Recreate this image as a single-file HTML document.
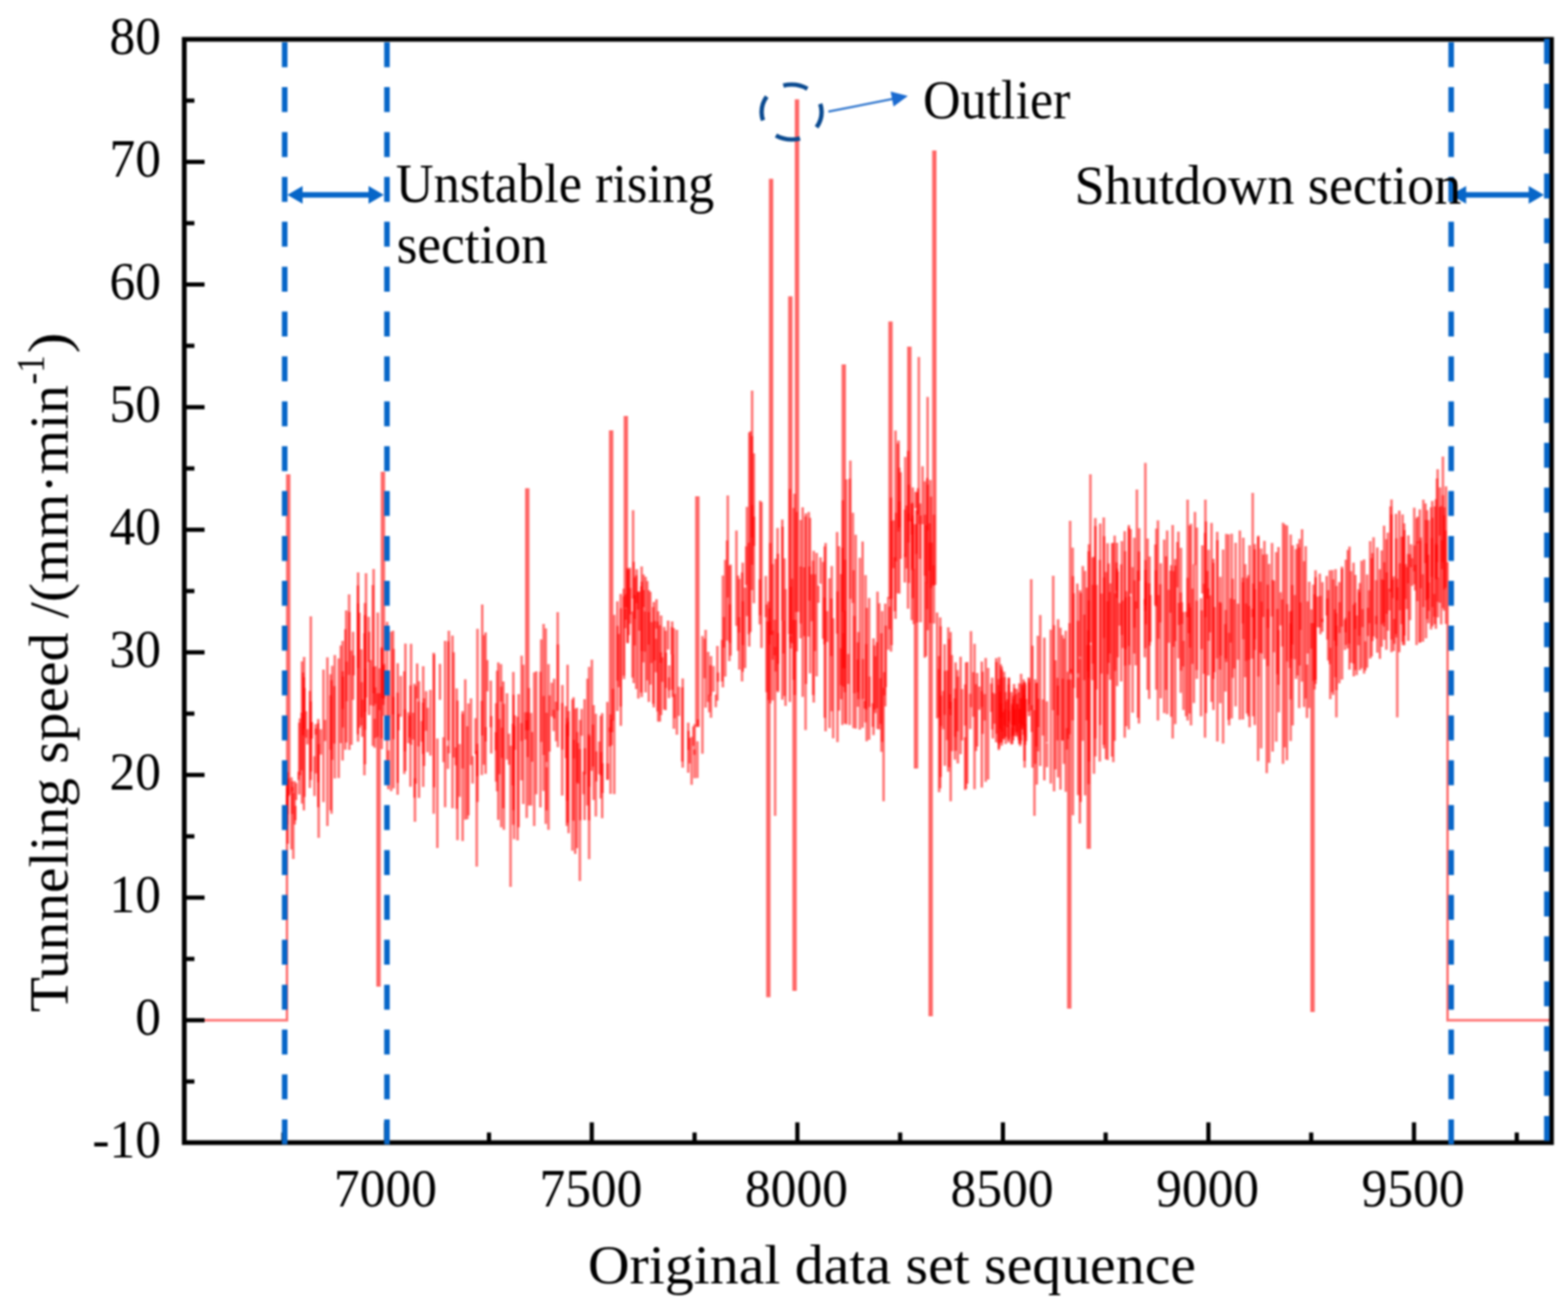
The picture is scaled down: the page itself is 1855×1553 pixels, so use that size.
<!DOCTYPE html>
<html><head><meta charset="utf-8"><title>Tunneling speed vs original data set sequence</title>
<style>
html,body{margin:0;padding:0;background:#fff;}
svg{display:block;}
#w{filter:blur(0.8px);width:1855px;height:1553px;overflow:hidden;}
text{font-family:"Liberation Serif","Times New Roman",serif;fill:#000;}
</style></head><body><div id="w">
<svg width="1855" height="1553" viewBox="0 0 1855 1553">
<rect x="0" y="0" width="1855" height="1553" fill="#fff"/>

<g fill="none" stroke="#ff0000" stroke-width="3.0" stroke-opacity="0.55">
<path d="M242 1206.7H339.5V940.0M1712.5 665.0V1206.7H1833"/>
<path d="M339.7 923.3V975.5M345.8 930.8V962.8M356.9 842.9V911.0M366.6 817.3V932.0M376.4 855.4V925.3M391.1 822.5V886.8M405.4 793.9V838.4M417.7 747.3V827.8M428.6 827.4V871.4M438.4 780.8V834.2M446.9 724.5V871.4M454.4 785.3V846.7M470.4 819.3V940.0M484.7 846.3V872.2M495.2 829.7V882.8M509.2 816.1V893.7M530.3 758.4V875.7M547.3 841.0V909.1M564.0 888.0V1025.0M576.5 780.7V817.8M592.7 785.6V829.8M606.8 856.0V929.0M617.1 775.4V922.9M628.2 843.3V952.7M645.7 743.3V974.4M657.9 829.9V876.7M671.5 786.2V973.3M682.9 865.7V925.2M695.0 802.7V952.7M705.5 888.7V924.3M721.6 860.4V883.0M730.5 740.2V805.2M740.3 702.7V732.9M749.0 708.0V603.6M756.3 699.5V745.9M765.8 687.2V804.7M776.2 755.5V795.3M785.8 741.6V839.3M795.7 774.0V824.4M814.5 864.6V887.1M825.6 851.1V858.7M841.1 775.9V849.1M858.0 662.2V800.2M874.3 730.1V748.2M885.9 642.0V750.2M898.9 685.3V738.6M910.2 719.6V762.3M917.6 660.9V794.3M929.3 696.8V835.0M939.0 600.7V804.1M949.6 599.9V824.2M962.0 663.2V822.1M975.7 646.3V848.9M990.8 699.5V877.8M999.4 790.4V431.0M1009.8 674.5V861.3M1020.9 779.6V826.7M1033.4 754.9V869.5M1043.7 722.8V877.6M1054.1 588.4V770.7M1063.0 520.9V628.8M1074.3 533.2V719.9M1079.6 609.8V672.3M1085.9 577.4V608.4M1096.0 621.3V689.8M1102.2 641.7V1202.0M1112.3 730.2V932.4M1122.8 755.8V907.4M1132.8 792.4V864.9M1147.9 820.4V862.3M1161.7 817.5V836.3M1176.8 820.6V856.1M1184.6 832.0V849.1M1189.8 818.4V880.1M1196.6 818.6V880.5M1200.7 839.0V858.6M1206.9 838.5V882.6M1211.9 822.0V849.5M1217.6 802.6V833.3M1227.9 752.1V888.8M1246.0 840.0V681.0M1257.3 802.7V875.5M1266.2 803.8V1193.0M1277.5 779.2V974.0M1287.3 745.5V793.9M1294.2 658.5V915.2M1306.1 683.1V754.6M1315.6 642.6V895.0M1324.7 713.2V740.0M1335.4 624.1V862.7M1345.0 720.0V579.0M1355.7 688.4V738.4M1369.9 615.6V852.3M1384.6 674.9V724.8M1394.6 712.9V739.2M1405.0 730.0V591.0M1415.8 710.4V792.5M1426.7 616.8V843.6M1436.5 718.1V795.0M1450.2 721.5V778.9M1461.8 641.9V835.4M1475.2 683.5V843.9M1484.5 649.7V768.8M1495.9 639.8V779.4M1509.9 653.1V877.3M1522.5 621.6V899.2M1531.9 703.7V779.7M1544.7 646.1V826.3M1555.2 703.1V815.4M1569.5 681.2V728.0M1580.0 673.2V801.0M1591.2 733.2V768.8M1601.6 715.2V800.1M1611.9 720.6V741.8M1623.7 654.3V758.2M1637.0 686.0V736.4M1646.2 608.6V771.6M1653.0 694.7V848.5M1662.8 667.3V708.4M1673.2 645.2V690.9M1683.4 679.3V759.1M1690.2 689.0V722.4M1699.0 643.3V685.2M1705.9 639.1V673.2"/>
<path d="M339.8 940.0V561.0M347.0 937.8V1016.0M357.3 782.2V950.4M367.6 829.4V922.4M376.5 850.5V954.7M392.2 804.4V962.5M405.6 800.3V860.4M418.4 775.2V798.8M431.1 749.1V917.0M441.1 692.1V882.2M449.0 820.0V1167.0M458.0 735.4V909.7M470.5 784.6V926.1M485.6 810.8V930.6M495.7 805.8V943.7M513.1 772.0V962.5M531.0 891.0V746.0M547.3 844.2V994.7M564.6 879.7V917.9M580.6 805.1V860.2M593.0 812.2V978.5M607.3 794.7V975.4M619.1 786.2V950.9M629.5 865.8V901.0M646.6 907.4V958.5M659.8 840.4V724.0M671.9 853.6V870.7M683.6 878.8V927.0M696.8 868.4V970.3M709.1 877.1V915.7M721.8 866.0V509.0M731.9 749.8V812.8M741.6 718.4V492.0M749.7 664.5V808.1M758.6 693.5V819.2M767.4 724.1V762.4M776.7 708.8V743.4M787.4 746.1V840.0M797.2 743.1V862.1M815.9 872.9V903.1M826.2 860.0V587.0M844.1 787.8V818.3M860.1 639.2V757.7M874.7 684.8V792.1M886.4 511.5V764.7M899.3 592.2V727.8M911.0 751.0V211.6M919.9 624.6V816.9M933.8 750.0V350.4M940.1 584.1V821.9M951.3 670.9V752.6M962.7 651.4V830.9M976.7 642.2V864.9M992.5 646.1V840.4M999.6 722.6V818.8M1010.8 728.5V819.9M1023.2 829.1V837.9M1034.4 763.6V839.2M1045.3 813.5V947.8M1054.7 708.3V380.2M1063.8 592.9V624.1M1074.6 616.5V410.0M1079.9 576.4V707.4M1087.0 620.0V422.3M1096.8 565.5V720.4M1104.1 691.8V178.0M1112.8 740.8V919.1M1123.6 820.9V838.4M1133.1 800.2V903.0M1148.7 746.5V836.6M1162.4 794.5V867.9M1178.5 778.4V877.9M1185.0 801.4V882.0M1190.0 829.4V871.4M1197.4 860.4V871.0M1201.8 821.1V865.8M1207.2 826.0V879.9M1212.0 806.6V900.0M1220.0 840.0V685.0M1228.3 826.5V860.1M1247.0 739.5V935.9M1258.7 755.3V903.5M1266.8 791.2V797.2M1277.8 698.3V776.8M1287.9 652.0V927.5M1295.8 612.7V873.5M1306.2 634.3V885.3M1317.1 642.0V901.6M1326.4 667.5V806.0M1335.5 621.0V764.2M1346.3 674.9V849.1M1357.7 636.9V816.1M1370.4 703.8V755.5M1385.6 668.6V847.8M1396.9 700.7V819.6M1406.6 713.6V749.0M1415.9 624.1V803.1M1428.4 675.3V708.2M1440.0 629.1V778.8M1450.7 631.6V783.1M1464.7 714.0V780.3M1476.9 680.2V847.2M1484.7 696.9V756.1M1498.6 655.4V914.6M1511.3 720.3V797.4M1522.8 714.5V782.6M1533.3 649.6V803.0M1546.2 786.0V849.3M1556.3 674.6V809.1M1570.3 708.1V756.6M1580.8 725.3V764.1M1591.9 730.7V748.0M1603.2 712.8V744.1M1613.8 661.7V796.7M1625.0 635.5V752.7M1637.4 621.8V741.0M1646.2 590.8V756.6M1655.4 604.0V771.5M1664.7 670.7V720.6M1674.2 668.0V698.4M1683.9 590.9V718.0M1693.0 600.1V744.4M1699.6 644.8V683.4M1707.0 665.0V540.0"/>
<path d="M340.2 932.4V963.2M348.7 924.1V975.3M358.6 795.6V869.7M367.7 873.9V729.0M377.0 880.0V991.0M393.1 787.4V898.8M408.6 744.2V886.7M423.4 692.6V868.6M431.8 727.6V904.0M442.0 820.0V673.0M449.0 790.4V840.1M459.4 887.5V933.5M471.5 844.6V863.7M486.3 761.4V881.0M499.2 852.8V877.3M513.5 773.9V931.2M535.3 751.7V956.0M550.4 803.4V969.6M564.9 743.8V948.6M581.2 847.1V891.2M593.9 860.7V896.6M607.5 821.8V958.3M621.7 842.4V874.8M632.0 795.3V977.1M646.7 842.9V901.2M660.0 762.2V883.8M672.7 841.0V985.6M686.0 886.0V1042.0M697.0 788.8V1016.2M710.7 846.4V944.6M722.3 845.0V939.1M734.3 702.5V835.8M742.4 671.8V760.0M750.8 682.9V763.6M759.1 670.0V824.6M767.6 697.9V830.2M777.9 735.3V841.5M787.8 772.1V813.8M798.2 820.7V849.4M818.2 871.4V928.3M831.0 752.3V891.5M846.8 821.5V836.5M861.0 706.7V586.0M877.9 677.2V806.0M887.9 509.9V747.5M900.9 593.8V766.5M911.2 642.2V832.1M920.3 654.9V818.8M934.5 578.4V830.2M941.2 733.3V1172.0M953.0 610.8V863.4M964.1 679.3V770.0M978.4 722.7V759.2M995.0 766.7V810.6M999.8 662.0V855.8M1012.3 632.4V861.7M1024.0 680.3V854.6M1035.6 776.3V843.6M1046.3 795.0V822.4M1054.8 616.0V763.0M1063.9 553.3V702.2M1074.8 607.2V641.7M1081.0 672.8V738.3M1088.5 595.4V661.0M1097.4 627.4V469.5M1104.6 668.8V692.7M1113.2 822.7V858.7M1124.6 747.4V846.0M1136.4 776.7V892.1M1151.6 795.0V847.7M1165.1 821.1V852.3M1178.9 783.0V867.8M1185.0 788.4V865.2M1192.0 826.9V859.9M1197.5 832.3V879.9M1202.7 814.8V869.6M1208.0 796.9V876.0M1212.2 807.1V908.0M1220.6 833.9V865.7M1230.7 727.5V906.1M1248.5 780.9V910.0M1260.9 746.0V936.5M1269.0 647.7V852.1M1278.5 701.3V948.4M1288.1 710.2V802.1M1295.9 622.2V894.8M1308.4 676.5V898.0M1318.7 633.5V876.2M1327.2 639.9V751.1M1336.3 705.3V786.6M1347.4 652.3V855.7M1359.5 690.1V826.7M1372.7 690.9V736.2M1387.3 620.9V873.6M1397.1 647.9V793.3M1407.4 621.6V844.0M1420.9 707.6V847.2M1429.4 696.1V798.9M1440.2 638.9V877.1M1453.4 631.9V851.6M1466.8 627.4V851.2M1477.8 716.7V780.2M1488.4 635.0V900.2M1499.8 691.6V787.7M1512.5 647.1V810.1M1526.1 723.2V790.0M1535.1 643.2V798.9M1547.1 711.3V773.0M1556.4 682.7V804.1M1571.3 697.9V781.3M1581.0 693.1V816.3M1592.3 661.9V762.7M1603.5 680.1V792.5M1615.2 758.6V793.1M1628.2 686.2V738.5M1637.7 665.0V756.7M1647.6 685.4V707.5M1656.1 666.2V721.7M1665.9 655.3V690.0M1675.9 613.1V763.0M1686.4 595.4V666.0M1694.0 636.3V682.3M1700.0 665.0V566.0M1707.1 585.7V719.2"/>
<path d="M340.4 913.3V998.0M349.5 953.3V970.2M359.5 800.9V958.4M368.0 854.2V912.6M379.6 862.5V892.4M395.6 811.5V879.6M409.6 722.0V878.3M423.6 713.7V877.3M431.8 713.2V863.2M442.0 788.7V835.1M451.4 765.5V873.6M460.0 822.0V849.0M474.1 799.4V847.8M488.9 842.9V874.7M500.4 831.1V891.7M517.4 873.6V1003.1M536.7 771.6V896.0M552.9 858.9V968.9M570.0 828.9V916.8M586.5 866.1V887.5M595.5 805.9V956.0M608.2 858.4V992.6M622.6 863.8V577.6M634.4 794.0V939.4M648.9 785.5V981.4M665.1 831.5V940.9M677.2 827.3V1006.2M686.4 851.5V970.3M697.2 870.8V930.6M711.1 889.5V917.5M723.3 851.0V881.6M734.5 719.4V858.4M742.6 674.0V761.0M750.9 703.7V732.0M759.3 687.9V770.0M769.4 700.0V809.8M778.7 723.0V853.4M790.4 733.9V768.2M800.8 745.1V868.9M820.3 859.2V882.3M833.7 755.4V802.2M848.7 763.9V828.8M862.9 668.9V782.1M878.7 711.2V762.9M889.6 515.7V697.9M906.0 681.2V729.9M913.4 751.0V211.6M920.5 748.8V785.3M935.2 752.2V759.5M941.7 723.7V117.4M953.4 607.2V809.1M966.1 654.1V799.9M981.4 684.1V861.3M995.3 679.1V826.9M1001.1 567.0V856.8M1014.8 780.1V818.8M1024.8 761.8V839.3M1037.5 759.4V837.7M1047.3 713.9V835.6M1057.4 615.5V672.0M1065.5 558.4V661.0M1075.2 573.2V689.4M1082.5 620.0V909.0M1089.1 609.7V735.9M1097.5 573.3V745.5M1104.9 608.7V737.4M1116.1 817.2V862.6M1124.7 830.0V947.8M1138.1 815.0V875.8M1152.9 761.4V933.6M1166.1 778.2V924.8M1181.4 810.2V879.7M1185.1 791.9V878.5M1193.1 856.9V875.7M1197.8 835.6V858.1M1203.2 832.2V871.5M1208.9 825.8V857.3M1212.7 855.9V872.2M1221.5 763.8V908.0M1234.0 827.3V869.9M1251.1 801.8V875.7M1262.2 861.2V886.6M1269.3 681.6V964.3M1281.0 669.6V876.2M1288.3 643.8V900.8M1297.1 691.8V815.5M1310.3 711.2V797.4M1319.3 701.7V793.6M1328.0 710.6V766.4M1337.6 625.8V702.3M1347.7 624.7V687.0M1360.0 658.3V763.8M1373.2 666.3V825.9M1388.5 675.4V765.1M1398.2 712.3V738.0M1407.9 718.5V766.0M1421.6 722.0V767.7M1429.8 650.3V757.9M1443.3 712.0V792.1M1454.1 748.5V857.9M1470.3 683.3V737.6M1478.3 645.0V860.2M1488.7 633.4V800.3M1500.0 720.3V742.7M1512.8 745.2V842.5M1526.9 737.4V827.2M1537.0 647.4V837.4M1548.9 688.1V837.4M1558.9 705.5V742.0M1573.2 674.5V785.6M1581.0 740.0V848.5M1594.5 650.5V767.0M1605.0 727.9V798.5M1617.3 679.6V789.7M1628.2 728.4V755.2M1640.1 637.8V768.5M1648.8 681.7V770.0M1658.4 634.7V738.3M1666.1 633.3V758.0M1676.7 640.5V711.0M1687.0 615.0V755.0M1694.4 592.4V717.9M1700.8 555.1V711.8M1708.5 609.6V722.3"/>
<path d="M341.2 920.8V941.9M350.3 926.3V946.2M359.8 862.6V777.0M368.9 854.1V873.6M382.7 792.0V948.7M396.1 774.8V920.8M410.0 782.5V829.4M423.7 790.0V677.0M432.0 791.6V841.9M443.2 850.2V884.6M451.6 766.9V886.1M462.8 747.3V935.8M478.3 794.1V915.6M490.4 808.8V943.4M500.7 787.9V930.8M520.5 785.2V827.8M539.2 883.9V905.3M554.2 832.0V964.6M570.5 870.0V715.0M586.9 831.8V924.6M596.1 832.6V981.6M609.0 846.1V886.9M623.1 852.0V967.5M639.3 794.4V955.1M650.1 822.5V888.9M665.3 810.2V886.5M678.5 824.7V970.8M688.1 838.5V870.3M700.2 780.2V911.8M712.4 843.5V967.8M724.2 866.0V509.0M738.0 696.2V799.3M744.0 673.3V751.3M752.7 680.4V814.9M761.3 679.5V783.6M770.8 735.8V784.3M780.7 739.5V853.6M791.4 801.2V825.8M803.1 812.2V846.8M821.6 886.6V892.8M834.8 745.0V836.9M849.4 795.5V806.3M863.4 714.8V760.4M878.7 665.5V794.5M889.8 635.8V462.0M906.9 715.1V818.7M914.0 667.2V828.5M925.5 614.6V827.5M935.4 693.9V766.9M942.6 605.4V770.5M956.8 605.4V753.1M968.2 692.8V713.1M983.6 707.9V776.1M996.6 647.9V857.6M1003.7 773.6V808.9M1014.9 759.7V836.1M1025.3 718.9V876.8M1038.1 699.7V862.3M1047.9 740.0V812.7M1058.7 658.9V722.9M1070.4 655.7V688.9M1077.0 616.5V410.0M1083.3 581.8V600.9M1091.4 551.6V620.1M1099.8 641.7V1202.0M1106.5 691.8V178.0M1117.5 762.0V845.4M1126.1 774.7V888.5M1141.8 871.9V934.5M1154.7 809.2V888.2M1169.0 789.9V922.1M1181.6 803.3V887.2M1186.5 842.0V874.0M1193.3 809.4V878.2M1198.8 826.7V875.7M1203.7 832.9V866.0M1208.9 808.5V861.2M1212.8 809.4V881.0M1223.8 840.0V965.0M1235.5 754.2V923.0M1251.5 811.0V846.1M1263.3 794.5V874.3M1270.2 701.8V813.8M1282.8 727.1V804.6M1289.2 763.1V1004.0M1301.1 662.2V900.8M1310.3 642.4V899.0M1320.9 665.2V698.7M1330.6 628.3V872.4M1339.9 670.7V843.1M1354.3 708.4V777.6M1360.9 703.8V759.3M1377.3 638.3V843.6M1390.4 668.9V856.4M1399.8 723.8V788.3M1409.0 619.6V858.1M1422.4 644.9V701.9M1431.6 704.2V748.0M1443.7 682.2V831.8M1456.0 707.7V760.1M1470.4 688.4V851.0M1481.8 720.2V779.0M1491.2 687.9V772.3M1501.4 666.9V902.2M1515.0 700.6V739.8M1526.9 632.3V876.4M1537.4 637.5V787.3M1551.5 720.7V767.3M1561.3 678.4V742.3M1573.8 766.2V826.9M1584.5 688.6V808.3M1596.1 723.0V761.2M1607.3 697.0V763.3M1618.4 719.1V752.2M1629.4 647.4V772.0M1640.6 677.1V726.1M1649.5 731.9V761.5M1659.3 608.5V759.2M1668.1 655.6V733.6M1677.2 611.0V642.4M1687.4 642.8V710.0M1694.5 612.4V740.7M1701.0 683.0V730.2M1708.7 600.0V697.2"/>
<path d="M342.2 940.0V561.0M353.3 912.8V922.4M360.2 813.8V942.5M372.1 894.5V941.6M384.4 851.4V876.4M400.7 778.8V920.2M413.0 798.3V703.0M425.2 724.7V860.8M433.0 825.0V678.0M444.0 813.0V872.9M451.8 826.0V558.0M465.0 845.0V746.0M479.1 839.0V888.4M490.9 920.6V971.9M501.7 826.1V905.9M524.7 872.1V901.6M540.3 814.3V956.7M557.2 826.0V904.8M572.5 751.2V904.4M588.1 793.3V935.9M599.8 820.0V898.6M612.3 847.8V994.1M624.4 842.6V895.4M640.3 756.3V877.5M652.8 807.4V847.6M669.5 835.2V896.8M679.0 874.9V897.2M690.4 912.6V939.5M701.5 857.0V906.7M712.8 902.7V938.1M725.1 814.7V852.3M738.2 705.3V803.2M745.2 671.5V737.7M753.2 673.3V713.4M761.5 698.0V718.0M772.8 718.1V832.6M781.8 771.4V783.9M791.7 787.1V816.5M807.1 812.9V900.7M821.8 856.6V920.5M837.8 770.9V830.2M854.2 756.8V806.0M864.3 667.8V775.6M881.5 695.0V790.3M889.9 597.4V668.0M907.8 735.0V1179.6M914.1 746.1V780.2M925.8 623.0V733.9M936.2 750.0V350.4M944.1 723.7V117.4M957.5 670.0V710.5M970.7 659.3V690.5M984.0 669.6V841.3M997.0 790.4V431.0M1005.2 566.3V857.5M1015.7 747.5V826.9M1028.2 707.3V875.0M1040.2 713.5V862.8M1050.9 705.9V768.4M1059.4 509.2V732.0M1070.6 602.7V656.4M1078.7 613.7V733.5M1084.2 603.6V655.2M1094.0 569.3V777.9M1099.8 618.9V675.0M1108.6 724.6V849.7M1117.8 793.4V905.8M1129.7 826.0V898.5M1141.9 809.6V858.2M1156.0 796.0V883.1M1172.8 808.5V841.9M1182.0 777.3V885.1M1187.9 794.4V874.8M1193.4 802.1V873.7M1198.9 822.9V868.9M1205.2 818.7V875.5M1209.4 810.7V863.0M1213.9 826.7V876.4M1224.7 803.6V903.6M1238.5 829.4V878.1M1251.8 732.4V919.6M1263.8 803.8V1193.0M1274.5 690.2V825.7M1283.7 675.2V940.8M1290.0 760.0V561.0M1301.6 619.3V857.6M1311.5 666.4V784.0M1321.4 641.9V707.2M1331.1 652.0V787.3M1342.0 636.0V773.1M1355.0 715.2V547.5M1366.9 644.1V715.4M1379.5 658.0V815.9M1390.5 661.3V758.2M1400.1 758.1V839.8M1410.8 696.3V785.2M1424.4 690.4V797.1M1433.3 618.6V830.2M1444.0 713.3V775.4M1457.1 631.2V849.7M1470.9 636.0V755.9M1482.0 730.0V583.0M1492.0 648.8V885.3M1504.9 642.2V729.3M1517.0 709.0V764.7M1527.8 722.5V779.1M1538.4 712.4V744.9M1551.6 737.0V1197.0M1562.1 704.8V750.3M1576.1 674.2V818.7M1584.8 712.3V748.8M1596.5 646.4V791.9M1608.1 700.3V752.0M1620.0 698.2V737.2M1632.5 673.2V779.2M1641.8 630.1V745.9M1651.5 607.7V749.9M1659.9 634.9V763.1M1669.2 643.7V671.1M1679.7 602.5V760.2M1688.3 603.5V732.2M1696.9 702.6V729.5M1703.4 599.8V633.6M1710.0 627.4V695.0"/>
<path d="M344.8 919.5V1004.8M354.1 854.8V939.8M362.0 841.3V872.4M373.4 856.4V869.1M387.3 777.6V977.1M403.2 763.6V879.0M413.3 723.7V887.0M427.4 768.1V858.0M436.1 729.4V783.1M444.1 787.9V832.4M453.5 787.3V833.7M465.5 824.2V874.2M479.6 761.2V912.1M491.9 811.6V927.0M504.1 817.4V864.5M526.6 757.9V954.8M541.2 828.8V993.7M559.1 894.3V926.7M574.5 747.9V915.3M589.5 783.5V969.7M602.3 867.7V904.5M613.6 821.1V978.4M625.0 863.8V577.6M643.1 737.9V935.6M655.1 839.5V864.8M670.6 856.6V976.9M680.5 838.2V1010.1M691.6 827.1V970.1M702.3 834.1V946.2M718.5 830.3V922.5M726.7 727.2V939.2M739.2 718.4V492.0M745.6 695.6V726.7M754.8 699.7V721.0M763.0 723.3V770.7M773.5 712.1V836.7M782.1 728.0V845.7M794.8 741.8V774.0M807.7 802.5V908.1M823.8 860.0V587.0M839.1 821.7V842.4M855.2 680.7V813.1M871.2 627.4V740.3M882.8 646.2V691.7M891.9 536.2V713.4M909.2 711.6V827.9M916.7 733.1V775.3M927.0 734.1V773.0M937.1 684.4V761.0M947.2 669.9V755.1M958.3 612.5V796.6M973.8 664.6V755.5M985.7 731.3V873.3M997.1 591.7V723.5M1006.0 544.8V708.3M1017.2 659.7V863.1M1028.7 800.3V836.3M1041.7 802.2V856.2M1052.3 717.6V744.3M1060.0 606.5V664.0M1071.0 540.5V659.1M1078.9 596.1V632.2M1084.9 620.0V909.0M1094.2 608.8V681.1M1100.7 567.7V737.1M1110.7 791.5V848.4M1120.7 793.0V875.5M1130.0 814.4V871.4M1142.8 783.5V933.0M1158.5 812.1V839.5M1173.9 801.5V862.8M1182.8 818.1V861.9M1188.7 801.0V871.9M1193.6 801.2V853.0M1199.7 809.1V857.1M1205.8 808.3V879.9M1211.0 803.6V869.3M1217.0 801.3V841.8M1226.0 808.0V882.9M1238.6 878.7V907.6M1254.6 742.4V934.1M1265.3 737.1V868.4M1275.3 734.2V796.4M1285.6 694.9V852.0M1292.7 659.3V804.6M1302.9 702.1V796.8M1312.9 700.2V772.9M1321.6 672.4V811.4M1331.6 706.4V767.7M1342.2 686.5V742.4M1355.1 674.0V722.4M1367.4 674.7V717.2M1380.8 627.5V844.7M1392.9 641.1V694.8M1403.1 723.5V847.2M1412.4 667.5V831.4M1425.6 630.2V872.6M1435.5 665.8V802.9M1447.0 650.1V879.5M1458.2 684.6V801.7M1473.2 667.2V801.1M1482.7 690.3V847.3M1492.4 711.4V772.9M1505.6 685.9V889.0M1517.9 618.3V903.4M1528.9 691.9V762.2M1540.4 626.1V806.3M1553.9 691.4V805.2M1564.4 731.8V747.3M1577.2 685.2V822.1M1587.6 670.3V741.2M1598.2 675.6V784.0M1608.8 689.4V792.8M1621.0 640.1V778.9M1634.6 650.9V765.1M1643.8 696.3V721.9M1651.9 636.7V753.9M1661.2 619.0V763.3M1670.4 660.2V692.9M1680.1 639.5V759.7M1689.6 656.1V708.0M1697.5 598.9V738.3M1703.6 576.6V712.9M1710.7 575.2V738.0"/>
<path d="M345.7 924.1V936.5M354.9 849.7V916.9M363.7 862.6V880.5M373.6 861.8V914.8M391.1 797.6V958.6M405.3 758.0V899.6M415.8 769.4V880.9M427.9 806.7V848.5M436.7 747.3V845.8M446.6 820.0V1167.0M454.2 826.0V558.0M465.7 767.6V932.4M483.3 842.4V879.1M493.5 784.8V826.2M505.8 837.3V889.7M529.9 882.2V909.5M543.7 879.9V942.6M562.6 849.4V892.1M574.6 860.1V877.0M590.8 850.4V915.8M604.0 882.0V1049.0M617.0 855.2V876.5M625.8 813.7V952.7M643.2 823.2V892.9M655.6 802.7V849.8M671.1 849.2V947.0M682.5 837.2V1003.3M691.9 884.9V916.1M704.9 844.2V965.7M719.0 902.9V921.9M730.3 711.3V841.1M739.4 720.1V743.1M748.3 723.3V801.6M755.2 700.2V826.3M763.8 682.3V819.1M774.4 734.6V781.2M783.6 777.4V806.6M795.2 735.1V815.7M814.2 854.8V914.0M825.0 876.8V920.2M840.5 786.7V822.7M856.4 729.8V766.0M873.2 680.7V769.8M883.7 599.5V728.8M892.0 611.1V645.8M910.2 735.0V1179.6M917.0 765.0V965.0M928.1 660.4V823.2M938.8 733.3V1172.0M947.3 614.9V737.4M960.3 679.3V734.8M975.3 706.8V762.2M990.3 629.3V749.6M997.7 749.1V812.3M1009.0 606.4V713.2M1020.5 640.6V860.7M1032.6 831.8V859.8M1042.8 749.1V889.3M1052.3 708.3V380.2M1062.1 524.6V701.8M1072.4 598.1V672.6M1079.3 594.6V674.5M1085.1 582.1V736.2M1095.5 688.7V776.2M1101.3 587.6V695.5M1111.0 775.9V937.0M1121.9 741.9V912.8M1130.5 783.6V888.0M1144.3 782.9V927.1M1161.5 782.4V931.4M1174.6 819.3V873.4M1183.9 785.7V878.0M1188.8 838.9V858.1M1193.8 840.4V856.4M1200.2 814.1V870.9M1206.1 838.7V855.2M1211.1 815.3V858.6M1217.5 806.8V847.1M1226.6 807.5V928.0M1243.1 744.7V926.8M1256.9 751.2V876.0M1266.0 795.0V616.0M1275.4 801.5V940.5M1286.8 763.1V1004.0M1292.9 691.8V785.0M1305.8 612.1V881.0M1313.7 689.9V804.0M1322.3 676.1V777.5M1332.3 699.2V858.9M1343.7 711.2V786.9M1355.2 662.5V766.8M1368.0 625.2V815.8M1382.8 697.5V760.3M1394.1 628.7V778.8M1405.0 683.5V852.3M1413.7 605.4V668.2M1426.0 730.0V591.0M1435.5 661.1V839.8M1449.8 738.2V818.1M1460.2 708.9V790.8M1474.3 713.7V781.8M1484.4 643.6V857.6M1494.6 656.0V729.8M1507.1 686.8V771.6M1519.9 620.3V884.1M1529.3 644.9V858.1M1542.8 663.8V836.2M1554.0 737.0V1197.0M1564.5 688.5V735.8M1579.3 720.7V757.8M1587.7 672.8V803.8M1601.3 665.5V784.9M1610.8 663.3V790.4M1622.7 660.2V776.6M1634.7 685.2V738.6M1645.0 700.0V599.0M1652.6 684.6V710.1M1661.5 627.0V751.8M1673.1 600.4V675.8M1680.6 635.7V695.8M1689.9 615.3V737.3M1698.7 590.6V743.7M1705.0 598.6V738.5"/>
</g>
<rect x="218" y="46.5" width="1617.5" height="1305.0" fill="none" stroke="#000" stroke-width="5.6" stroke-linejoin="miter"/>
<line x1="218" y1="1279.2" x2="230" y2="1279.2" stroke="#000" stroke-width="5"/>
<line x1="218" y1="1206.7" x2="242" y2="1206.7" stroke="#000" stroke-width="5"/>
<line x1="218" y1="1134.2" x2="230" y2="1134.2" stroke="#000" stroke-width="5"/>
<line x1="218" y1="1061.7" x2="242" y2="1061.7" stroke="#000" stroke-width="5"/>
<line x1="218" y1="989.2" x2="230" y2="989.2" stroke="#000" stroke-width="5"/>
<line x1="218" y1="916.6" x2="242" y2="916.6" stroke="#000" stroke-width="5"/>
<line x1="218" y1="844.1" x2="230" y2="844.1" stroke="#000" stroke-width="5"/>
<line x1="218" y1="771.6" x2="242" y2="771.6" stroke="#000" stroke-width="5"/>
<line x1="218" y1="699.1" x2="230" y2="699.1" stroke="#000" stroke-width="5"/>
<line x1="218" y1="626.6" x2="242" y2="626.6" stroke="#000" stroke-width="5"/>
<line x1="218" y1="554.1" x2="230" y2="554.1" stroke="#000" stroke-width="5"/>
<line x1="218" y1="481.6" x2="242" y2="481.6" stroke="#000" stroke-width="5"/>
<line x1="218" y1="409.0" x2="230" y2="409.0" stroke="#000" stroke-width="5"/>
<line x1="218" y1="336.5" x2="242" y2="336.5" stroke="#000" stroke-width="5"/>
<line x1="218" y1="264.0" x2="230" y2="264.0" stroke="#000" stroke-width="5"/>
<line x1="218" y1="191.5" x2="242" y2="191.5" stroke="#000" stroke-width="5"/>
<line x1="218" y1="119.0" x2="230" y2="119.0" stroke="#000" stroke-width="5"/>
<line x1="335.3" y1="1351.5" x2="335.3" y2="1339.5" stroke="#000" stroke-width="5"/>
<line x1="456.9" y1="1351.5" x2="456.9" y2="1327.5" stroke="#000" stroke-width="5"/>
<line x1="578.5" y1="1351.5" x2="578.5" y2="1339.5" stroke="#000" stroke-width="5"/>
<line x1="700.1" y1="1351.5" x2="700.1" y2="1327.5" stroke="#000" stroke-width="5"/>
<line x1="821.7" y1="1351.5" x2="821.7" y2="1339.5" stroke="#000" stroke-width="5"/>
<line x1="943.3" y1="1351.5" x2="943.3" y2="1327.5" stroke="#000" stroke-width="5"/>
<line x1="1064.9" y1="1351.5" x2="1064.9" y2="1339.5" stroke="#000" stroke-width="5"/>
<line x1="1186.5" y1="1351.5" x2="1186.5" y2="1327.5" stroke="#000" stroke-width="5"/>
<line x1="1308.0" y1="1351.5" x2="1308.0" y2="1339.5" stroke="#000" stroke-width="5"/>
<line x1="1429.6" y1="1351.5" x2="1429.6" y2="1327.5" stroke="#000" stroke-width="5"/>
<line x1="1551.2" y1="1351.5" x2="1551.2" y2="1339.5" stroke="#000" stroke-width="5"/>
<line x1="1672.8" y1="1351.5" x2="1672.8" y2="1327.5" stroke="#000" stroke-width="5"/>
<line x1="1794.4" y1="1351.5" x2="1794.4" y2="1339.5" stroke="#000" stroke-width="5"/>
<line x1="336.8" y1="50" x2="336.8" y2="1353.5" stroke="#0766c8" stroke-width="6.6" stroke-dasharray="29.5 23.58"/>
<line x1="457.8" y1="50" x2="457.8" y2="1353.5" stroke="#0766c8" stroke-width="6.6" stroke-dasharray="29.5 23.58"/>
<line x1="1716.8" y1="50" x2="1716.8" y2="1353.5" stroke="#0766c8" stroke-width="6.6" stroke-dasharray="29.5 23.58"/>
<line x1="1830" y1="46" x2="1830" y2="1353.5" stroke="#0766c8" stroke-width="6.6" stroke-dasharray="29.5 23.58"/>
<text x="109.24" y="1369.0" font-size="62.5" textLength="81.23" lengthAdjust="spacingAndGlyphs">-10</text>
<text x="160.00" y="1224.0" font-size="62.5" textLength="30.47" lengthAdjust="spacingAndGlyphs">0</text>
<text x="129.53" y="1079.0" font-size="62.5" textLength="60.94" lengthAdjust="spacingAndGlyphs">10</text>
<text x="129.53" y="933.9" font-size="62.5" textLength="60.94" lengthAdjust="spacingAndGlyphs">20</text>
<text x="129.53" y="788.9" font-size="62.5" textLength="60.94" lengthAdjust="spacingAndGlyphs">30</text>
<text x="129.53" y="643.9" font-size="62.5" textLength="60.94" lengthAdjust="spacingAndGlyphs">40</text>
<text x="129.53" y="498.9" font-size="62.5" textLength="60.94" lengthAdjust="spacingAndGlyphs">50</text>
<text x="129.53" y="353.8" font-size="62.5" textLength="60.94" lengthAdjust="spacingAndGlyphs">60</text>
<text x="129.53" y="208.8" font-size="62.5" textLength="60.94" lengthAdjust="spacingAndGlyphs">70</text>
<text x="129.53" y="63.8" font-size="62.5" textLength="60.94" lengthAdjust="spacingAndGlyphs">80</text>
<text x="394.99" y="1427" font-size="62.5" textLength="121.88" lengthAdjust="spacingAndGlyphs">7000</text>
<text x="638.16" y="1427" font-size="62.5" textLength="121.88" lengthAdjust="spacingAndGlyphs">7500</text>
<text x="881.34" y="1427" font-size="62.5" textLength="121.88" lengthAdjust="spacingAndGlyphs">8000</text>
<text x="1124.51" y="1427" font-size="62.5" textLength="121.88" lengthAdjust="spacingAndGlyphs">8500</text>
<text x="1367.69" y="1427" font-size="62.5" textLength="121.88" lengthAdjust="spacingAndGlyphs">9000</text>
<text x="1610.86" y="1427" font-size="62.5" textLength="121.88" lengthAdjust="spacingAndGlyphs">9500</text>
<line x1="356" y1="230.5" x2="438" y2="230.5" stroke="#0766c8" stroke-width="6.4"/><polygon points="340,230.5 358,220.0 358,241.0" fill="#0766c8"/><polygon points="454,230.5 436,220.0 436,241.0" fill="#0766c8"/>
<line x1="1732.5" y1="230.5" x2="1810.5" y2="230.5" stroke="#0766c8" stroke-width="6.4"/><polygon points="1716.5,230.5 1734.5,220.0 1734.5,241.0" fill="#0766c8"/><polygon points="1826.5,230.5 1808.5,220.0 1808.5,241.0" fill="#0766c8"/>
<text x="695.44" y="1518.3" font-size="65" textLength="719.39" lengthAdjust="spacingAndGlyphs">Original data set sequence</text>
<g transform="translate(80.2,1200) rotate(-90)"><text x="2.65" y="0" font-size="65" textLength="741.98" lengthAdjust="spacingAndGlyphs">Tunneling speed /(mm·min</text><text x="745.25" y="-28.3" font-size="47" textLength="34.61" lengthAdjust="spacingAndGlyphs">-1</text><text x="782.12" y="0" font-size="67" textLength="24.71" lengthAdjust="spacingAndGlyphs">)</text></g>
<text x="468.34" y="238.7" font-size="64.5" textLength="376.74" lengthAdjust="spacingAndGlyphs">Unstable rising</text>
<text x="469.26" y="310.9" font-size="64.5" textLength="178.82" lengthAdjust="spacingAndGlyphs">section</text>
<text x="1271.23" y="240.7" font-size="64.5" textLength="457.52" lengthAdjust="spacingAndGlyphs">Shutdown section</text>
<text x="1092.04" y="140.4" font-size="64.5" textLength="174.23" lengthAdjust="spacingAndGlyphs">Outlier</text>
<ellipse cx="936.5" cy="132.5" rx="35.5" ry="32.5" fill="none" stroke="#0a4a90" stroke-width="5.2" stroke-dasharray="29.5 23.93" stroke-dashoffset="10.2"/>
<line x1="980" y1="132" x2="1057.3" y2="116.8" stroke="#2a72cc" stroke-width="2.5"/>
<polygon points="1074,113.5 1057.1,126.0 1053.6,108.3" fill="#1a6ad0"/>
</svg></div></body></html>
